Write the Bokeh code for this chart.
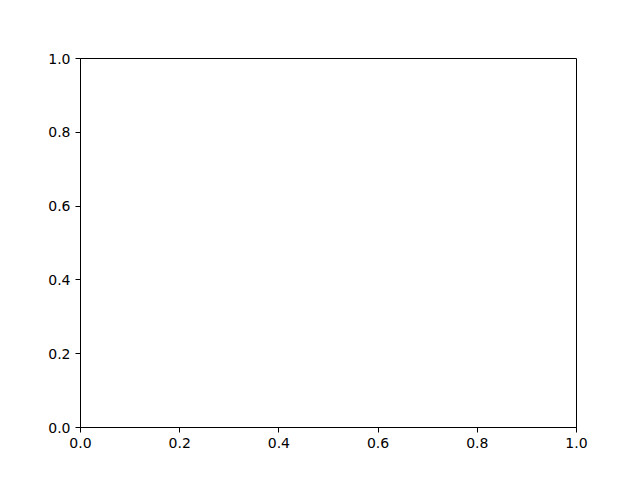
from bokeh.plotting import figure
from bokeh.models import Range1d, FixedTicker, PrintfTickFormatter
from bokeh.embed import file_html
from bokeh.resources import INLINE

x_ticks = [0.0, 0.2, 0.4, 0.6, 0.8, 1.0]
y_ticks = [0.0, 0.2, 0.4, 0.6, 0.8, 1.0]
x_limits = [0.0, 1.0]
y_limits = [0.0, 1.0]

p = figure(width=640, height=480, output_backend="svg", toolbar_location=None,
           x_range=Range1d(*x_limits), y_range=Range1d(*y_limits),
           min_border_left=80, min_border_right=64, min_border_top=58, min_border_bottom=53)
p.outline_line_color = "black"
p.outline_line_width = 1
p.outline_line_alpha = 1
p.xgrid.visible = False
p.ygrid.visible = False
p.background_fill_color = "white"
p.border_fill_color = "white"

for ax, ticks in ((p.xaxis[0], x_ticks), (p.yaxis[0], y_ticks)):
    ax.ticker = FixedTicker(ticks=ticks)
    ax.formatter = PrintfTickFormatter(format="%.1f")
    ax.minor_tick_line_color = None
    ax.major_tick_out = 5
    ax.major_tick_in = 0
    ax.major_tick_line_color = "black"
    ax.axis_line_color = "black"
    ax.major_label_text_font = "DejaVu Sans"
    ax.major_label_text_font_size = "14px"
    ax.major_label_text_color = "black"
    ax.major_label_standoff = 5

p.yaxis[0].major_label_orientation = "horizontal"

# invisible placeholder so the figure has a renderer
p.scatter(x=[], y=[])

open("out.html", "w").write(file_html(p, INLINE))
